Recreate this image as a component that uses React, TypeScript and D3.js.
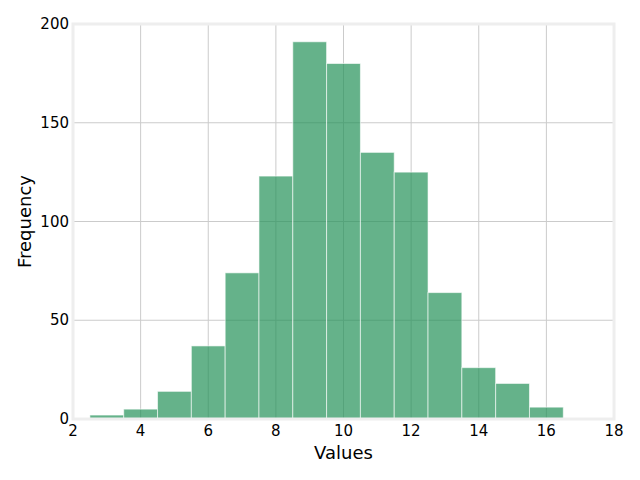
import React, { useRef, useEffect } from "react";
import * as d3 from "d3";

// histogram bins (width 1, centred on integers 3..16)
const binStarts = [2.5, 3.5, 4.5, 5.5, 6.5, 7.5, 8.5, 9.5, 10.5, 11.5, 12.5, 13.5, 14.5, 15.5];
const counts = [2, 5, 14, 37, 74, 123, 191, 180, 135, 125, 64, 26, 18, 6];
const xTicks = [2, 4, 6, 8, 10, 12, 14, 16, 18];
const yTicks = [0, 50, 100, 150, 200];

const App: React.FC = () => {
    const svgRef = useRef<SVGSVGElement | null>(null);

    useEffect(() => {
        if (!svgRef.current) return;
        const svg = d3.select(svgRef.current);
        svg.selectAll("*").remove();

        const left = 73, right = 614, top = 24, bottom = 419;
        const x = d3.scaleLinear().domain([2, 18]).range([left, right]);
        const y = d3.scaleLinear().domain([0, 200]).range([bottom, top]);
        const font = "DejaVu Sans, sans-serif";

        svg.append("rect")
            .attr("width", 640).attr("height", 480).attr("fill", "#fff");

        // grid
        svg.append("g").selectAll("line.vx")
            .data(xTicks.slice(1, -1))
            .enter().append("line")
            .attr("x1", (d) => x(d)).attr("x2", (d) => x(d))
            .attr("y1", top).attr("y2", bottom)
            .attr("stroke", "#cbcbcb").attr("stroke-width", 1);
        svg.append("g").selectAll("line.hy")
            .data(yTicks.slice(1, -1))
            .enter().append("line")
            .attr("x1", left).attr("x2", right)
            .attr("y1", (d) => y(d)).attr("y2", (d) => y(d))
            .attr("stroke", "#cbcbcb").attr("stroke-width", 1);

        // bars
        const bars = binStarts.map((s, i) => ({ x0: s, x1: s + 1, n: counts[i] }));
        svg.append("g").selectAll("rect")
            .data(bars)
            .enter().append("rect")
            .attr("x", (d) => x(d.x0))
            .attr("width", (d) => x(d.x1) - x(d.x0))
            .attr("y", (d) => y(d.n))
            .attr("height", (d) => y(0) - y(d.n))
            .attr("fill", "#249258")
            .attr("fill-opacity", 0.7)
            .attr("stroke", "#ffffff")
            .attr("stroke-opacity", 0.6)
            .attr("stroke-width", 1);

        // frame
        svg.append("rect")
            .attr("x", left).attr("y", top)
            .attr("width", right - left).attr("height", bottom - top)
            .attr("fill", "none")
            .attr("stroke", "#eeeeee")
            .attr("stroke-width", 3);

        // tick labels
        svg.append("g").selectAll("text")
            .data(xTicks)
            .enter().append("text")
            .attr("x", (d) => x(d))
            .attr("y", bottom + 17)
            .attr("text-anchor", "middle")
            .attr("font-family", font)
            .attr("font-size", 15)
            .text((d) => d);
        svg.append("g").selectAll("text")
            .data(yTicks)
            .enter().append("text")
            .attr("x", left - 4)
            .attr("y", (d) => y(d) + 5)
            .attr("text-anchor", "end")
            .attr("font-family", font)
            .attr("font-size", 15)
            .text((d) => d);

        // axis labels
        svg.append("text")
            .attr("x", (left + right) / 2)
            .attr("y", 459)
            .attr("text-anchor", "middle")
            .attr("font-family", font)
            .attr("font-size", 18)
            .text("Values");
        svg.append("text")
            .attr("transform", `translate(31,${(top + bottom) / 2}) rotate(-90)`)
            .attr("text-anchor", "middle")
            .attr("font-family", font)
            .attr("font-size", 18)
            .text("Frequency");
    }, []);

    return (
        <svg
            ref={svgRef}
            width={640}
            height={480}
            style={{ position: "absolute", left: 0, top: 0 }}
        />
    );
};

export default App;
